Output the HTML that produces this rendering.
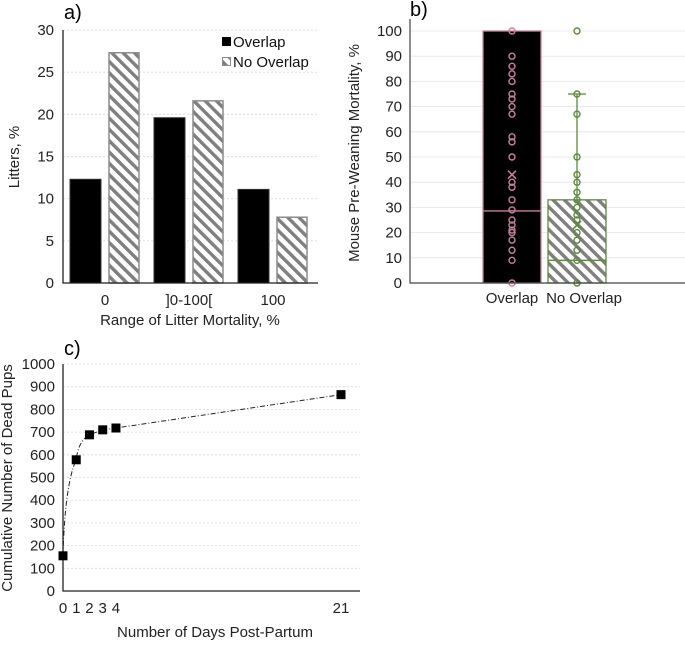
<!DOCTYPE html>
<html><head><meta charset="utf-8"><style>
body{margin:0;background:#fff;width:685px;height:640px;overflow:hidden}
svg{font-family:"Liberation Sans",Arial,sans-serif}
</style></head><body>
<svg width="685" height="640" viewBox="0 0 685 640">
<defs>
<pattern id="hatch" patternUnits="userSpaceOnUse" width="8" height="8" patternTransform="rotate(-45)">
<rect width="8" height="8" fill="#fff"/><rect width="3.4" height="8" fill="#7f7f7f"/>
</pattern>
</defs>
<g id="chartA"></g>
<g id="chartB"></g>
<g id="chartC"></g>
</svg>
<script>
// ---- Chart a data ----
const aCategories = ["0", "]0-100[", "100"];
const aOverlap = [12.3, 19.6, 11.1];
const aNoOverlap = [27.3, 21.6, 7.8];
const aTicks = [0, 5, 10, 15, 20, 25, 30];
// ---- Chart b data ----
const bCategories = ["Overlap", "No Overlap"];
const bOverlapPoints = [100, 90, 86, 83, 80, 75, 73, 70, 67, 58, 56, 50, 40, 38, 33, 29, 25, 23, 21, 20, 17, 13, 9, 0];
const bNoOverlapPoints = [100, 75, 67, 50, 43, 40, 36, 33, 30, 27, 25, 20, 17, 13, 9, 0];
const bOverlapBox = [0, 28.6, 100, 100, 43];   // q1, median, q3, whiskerTop, mean
const bNoOverlapBox = [0, 9, 33, 75, 23];
const bTicks = [0, 10, 20, 30, 40, 50, 60, 70, 80, 90, 100];
// ---- Chart c data ----
const cDays = [0, 1, 2, 3, 4, 21];
const cValues = [155, 578, 688, 710, 718, 865];
const cTicks = [0, 100, 200, 300, 400, 500, 600, 700, 800, 900, 1000];

const NS = "http://www.w3.org/2000/svg";
function mk(parent, tag, attrs, text) {
  const e = document.createElementNS(NS, tag);
  for (const k in attrs) e.setAttribute(k, attrs[k]);
  if (text !== undefined) e.textContent = text;
  parent.appendChild(e);
  return e;
}
const FS = 15;

// ===== Chart A =====
(function () {
  const g = document.getElementById("chartA");
  const x0 = 63, yB = 283, yT = 30;
  const ys = v => yB - (v / 30) * (yB - yT);
  let t = mk(g, "text", { x: 64, y: 19, "font-size": 20 }, "a)");
   
  aTicks.forEach(v => {
    if (v > 0) { const l = mk(g, "line", { x1: x0, x2: x0 + 255, y1: ys(v), y2: ys(v), stroke: "#d9d9d9", "stroke-dasharray": "2,2", "stroke-width": 0.8 });
        }
    const tt = mk(g, "text", { x: 54, y: ys(v) + 5, "font-size": FS, "text-anchor": "end", fill: "#222" }, v);
     
  });
  const gw = 252 / 3;
  aCategories.forEach((c, i) => {
    const cx = x0 + gw * (i + 0.5);
    const b1 = mk(g, "rect", { x: cx - 35, y: ys(aOverlap[i]), width: 31, height: yB - ys(aOverlap[i]), fill: "#000", stroke: "#333", "stroke-width": 1 });
     
    const b2 = mk(g, "rect", { x: cx + 4, y: ys(aNoOverlap[i]), width: 30, height: yB - ys(aNoOverlap[i]), fill: "url(#hatch)", stroke: "#8c8c8c", "stroke-width": 1.5 });
     
    const tl = mk(g, "text", { x: cx, y: 305, "font-size": FS, "text-anchor": "middle", fill: "#222" }, c);
     
  });
  const ax = mk(g, "path", { d: `M${x0} ${yT}V${yB}H${x0 + 255}`, stroke: "#222", fill: "none", "stroke-width": 1.3 });
   
  t = mk(g, "text", { x: 190, y: 325, "font-size": FS, "text-anchor": "middle", fill: "#222" }, "Range of Litter Mortality, %");
   
  t = mk(g, "text", { transform: "translate(19,157) rotate(-90)", "font-size": FS, "text-anchor": "middle", fill: "#222" }, "Litters, %");
   
  let r = mk(g, "rect", { x: 222, y: 37, width: 9, height: 9, fill: "#000" });
   
  t = mk(g, "text", { x: 233, y: 47, "font-size": FS, fill: "#111" }, "Overlap");
   
  r = mk(g, "rect", { x: 222.5, y: 57.5, width: 8, height: 8, fill: "url(#hatch)", stroke: "#8c8c8c", "stroke-width": 1 });
   
  t = mk(g, "text", { x: 233, y: 67, "font-size": FS, fill: "#111" }, "No Overlap");
   
})();

// ===== Chart B =====
(function () {
  const g = document.getElementById("chartB");
  const x0 = 410, x1 = 685, yB = 283, yT = 31;
  const ys = v => yB - (v / 100) * (yB - yT);
  let t = mk(g, "text", { x: 410, y: 16, "font-size": 20 }, "b)");
   
  bTicks.forEach(v => {
    if (v > 0) { const l = mk(g, "line", { x1: x0, x2: x1, y1: ys(v), y2: ys(v), stroke: "#e4e4e4", "stroke-width": 0.8 });
        }
    const tt = mk(g, "text", { x: 402, y: ys(v) + 5, "font-size": FS, "text-anchor": "end", fill: "#222" }, v);
     
  });
  const boxes = [bOverlapBox, bNoOverlapBox];
  const pts = [bOverlapPoints, bNoOverlapPoints];
  const centers = [512, 577];
  const cols = ["#c97fa0", "#5a8a3a"];
  boxes.forEach((b, i) => {
    const cx = centers[i], col = cols[i];
    const bx = mk(g, "rect", { x: cx - 29, y: ys(b[2]), width: 58, height: ys(b[0]) - ys(b[2]), fill: i ? "url(#hatch)" : "#000", stroke: col, "stroke-width": 1.3 });
     
    const md = mk(g, "line", { x1: cx - 29, x2: cx + 29, y1: ys(b[1]), y2: ys(b[1]), stroke: col, "stroke-width": 1.3 });
     
    if (b[3] > b[2]) {
      const w = mk(g, "line", { x1: cx, x2: cx, y1: ys(b[2]), y2: ys(b[3]), stroke: col, "stroke-width": 1.3 });
       
      const wc = mk(g, "line", { x1: cx - 9, x2: cx + 9, y1: ys(b[3]), y2: ys(b[3]), stroke: col, "stroke-width": 1.3 });
       
    }
    pts[i].forEach(v => {
      const c = mk(g, "circle", { cx: cx, cy: ys(v), r: 3, fill: "none", stroke: col, "stroke-width": 1.4 });
       
    });
    const m = mk(g, "path", { d: `M${cx - 4} ${ys(b[4]) - 4}L${cx + 4} ${ys(b[4]) + 4}M${cx + 4} ${ys(b[4]) - 4}L${cx - 4} ${ys(b[4]) + 4}`, stroke: col, "stroke-width": 1.6 });
     
    const tl = mk(g, "text", { x: cx + (i ? 7 : 0), y: 303, "font-size": FS, "text-anchor": "middle", fill: "#222" }, bCategories[i]);
     
  });
  const ax = mk(g, "path", { d: `M${x0} ${19}V${yB}H${x1}`, stroke: "#444", fill: "none", "stroke-width": 1.2 });
   
  t = mk(g, "text", { transform: "translate(359,153) rotate(-90)", "font-size": FS, "text-anchor": "middle", fill: "#222" }, "Mouse Pre-Weaning Mortality, %");
   
})();

// ===== Chart C =====
(function () {
  const g = document.getElementById("chartC");
  const x0 = 63, yB = 591, yT = 364, xR = 360;
  const xs = d => x0 + d * (341 - x0) / 21;
  const ys = v => yB - (v / 1000) * (yB - yT);
  let t = mk(g, "text", { x: 64, y: 355, "font-size": 20 }, "c)");
   
  cTicks.forEach(v => {
    if (v > 0) { const l = mk(g, "line", { x1: x0, x2: xR, y1: ys(v), y2: ys(v), stroke: "#d9d9d9", "stroke-dasharray": "2,2", "stroke-width": 0.8 });
        }
    const tt = mk(g, "text", { x: 55, y: ys(v) + 5, "font-size": FS, "text-anchor": "end", fill: "#222" }, v);
     
  });
  cDays.forEach(d => {
    const tt = mk(g, "text", { x: xs(d), y: 613, "font-size": FS, "text-anchor": "middle", fill: "#222" }, d);
     
  });
  const ax = mk(g, "path", { d: `M${x0} ${yT}V${yB}H${xR}`, stroke: "#222", fill: "none", "stroke-width": 1.3 });
   
  let d = `M${xs(cDays[0])} ${ys(cValues[0])}`;
  for (let i = 1; i < cDays.length; i++) {
    const px = xs(cDays[i - 1]), py = ys(cValues[i - 1]), nx = xs(cDays[i]), ny = ys(cValues[i]);
    if (i <= 2) d += `Q${px + (nx - px) * 0.15} ${ny + (py - ny) * 0.25} ${nx} ${ny}`;
    else d += `L${nx} ${ny}`;
  }
  const ln = mk(g, "path", { d: d, fill: "none", stroke: "#222", "stroke-width": 1, "stroke-dasharray": "5,2,1,2" });
   
  cDays.forEach((dd, i) => {
    const m = mk(g, "rect", { x: xs(dd) - 4.5, y: ys(cValues[i]) - 4.5, width: 9, height: 9, fill: "#000" });
     
  });
  t = mk(g, "text", { x: 215, y: 637, "font-size": FS, "text-anchor": "middle", fill: "#222" }, "Number of Days Post-Partum");
   
  t = mk(g, "text", { transform: "translate(12,478) rotate(-90)", "font-size": FS, "text-anchor": "middle", fill: "#222" }, "Cumulative Number of Dead Pups");
   
})();
</script>
</body></html>
